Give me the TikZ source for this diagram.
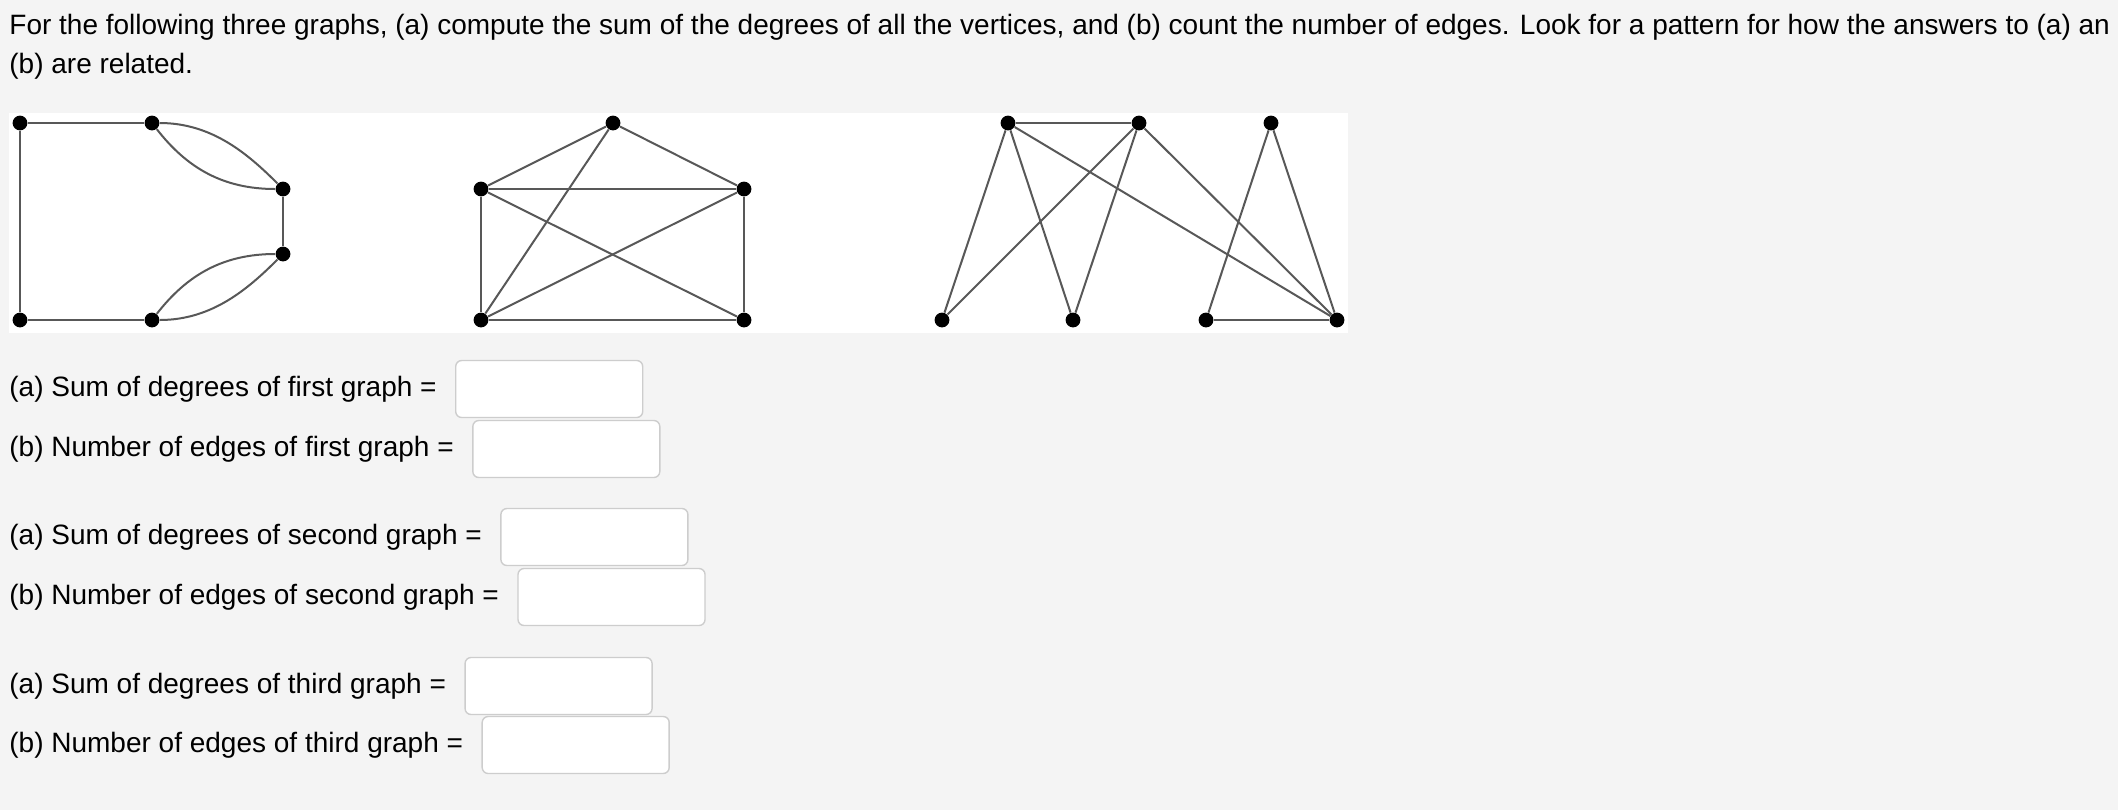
\documentclass[tikz,border=0pt]{standalone}
\usepackage{fontspec}
\setmainfont{Liberation Sans}
\usetikzlibrary{positioning}

\definecolor{pagebg}{HTML}{F4F4F4}
\definecolor{edgegray}{HTML}{585858}
\definecolor{boxline}{HTML}{CDCDCD}

\tikzset{
  vtx/.style={circle, fill=black, inner sep=0pt, minimum size=7.4pt},
  gedge/.style={draw=edgegray, line width=1pt},
  txt/.style={anchor=west, inner sep=0pt, font=\fontsize{14pt}{17pt}\selectfont},
  ansbox/.style={draw=boxline, fill=white, rounded corners=3pt, line width=0.7pt,
    minimum width=93.5pt, minimum height=28.5pt, inner sep=0pt}
}

\begin{document}
\begin{tikzpicture}[x=0.5pt,y=-0.5pt]
  \useasboundingbox (0,0) rectangle (2118,810);
  \clip (0,0) rectangle (2118,810);
  \fill[pagebg] (0,0) rectangle (2118,810);

  % question text
  \node[txt] (intro1) at (9,27) {For the following three graphs, (a) compute the sum of the degrees of all the vertices, and (b) count the number of edges. Look for a pattern for how the answers to (a) an};
  \node[txt] (intro2) at (9,66) {(b) are related.};

  % white panel behind the graphs
  \fill[white] (9,113) rectangle (1348,333);

  % first graph
  \node[vtx] (a1) at (20,123) {};
  \node[vtx] (a2) at (152,123) {};
  \node[vtx] (a3) at (283,189) {};
  \node[vtx] (a4) at (283,254) {};
  \node[vtx] (a5) at (20,320) {};
  \node[vtx] (a6) at (152,320) {};
  \draw[gedge] (a1) -- (a2);
  \draw[gedge] (a1) -- (a5);
  \draw[gedge] (a5) -- (a6);
  \draw[gedge] (a3) -- (a4);
  \draw[gedge] (a2) .. controls +(60,0) and +(-35,-35) .. (a3);
  \draw[gedge] (a2) .. controls +(35,45) and +(-60,0) .. (a3);
  \draw[gedge] (a6) .. controls +(60,0) and +(-35,35) .. (a4);
  \draw[gedge] (a6) .. controls +(35,-45) and +(-60,0) .. (a4);

  % second graph
  \node[vtx] (b1) at (613,123) {};
  \node[vtx] (b2) at (481,189) {};
  \node[vtx] (b3) at (744,189) {};
  \node[vtx] (b4) at (481,320) {};
  \node[vtx] (b5) at (744,320) {};
  \draw[gedge] (b1) -- (b2);
  \draw[gedge] (b1) -- (b3);
  \draw[gedge] (b1) -- (b4);
  \draw[gedge] (b2) -- (b3);
  \draw[gedge] (b2) -- (b4);
  \draw[gedge] (b2) -- (b5);
  \draw[gedge] (b3) -- (b4);
  \draw[gedge] (b3) -- (b5);
  \draw[gedge] (b4) -- (b5);

  % third graph
  \node[vtx] (c1) at (1008,123) {};
  \node[vtx] (c2) at (1139,123) {};
  \node[vtx] (c3) at (1271,123) {};
  \node[vtx] (c4) at (942,320) {};
  \node[vtx] (c5) at (1073,320) {};
  \node[vtx] (c6) at (1206,320) {};
  \node[vtx] (c7) at (1337,320) {};
  \draw[gedge] (c1) -- (c2);
  \draw[gedge] (c1) -- (c4);
  \draw[gedge] (c1) -- (c5);
  \draw[gedge] (c1) -- (c7);
  \draw[gedge] (c2) -- (c4);
  \draw[gedge] (c2) -- (c5);
  \draw[gedge] (c2) -- (c7);
  \draw[gedge] (c3) -- (c6);
  \draw[gedge] (c3) -- (c7);
  \draw[gedge] (c6) -- (c7);

  % answer rows
  \node[txt] (qa1) at (9,389) {(a) Sum of degrees of first graph =};
  \node[ansbox, right=9pt of qa1] (ans1) {};
  \node[txt] (qb1) at (9,449) {(b) Number of edges of first graph =};
  \node[ansbox, right=9pt of qb1] (ans2) {};
  \node[txt] (qa2) at (9,537) {(a) Sum of degrees of second graph =};
  \node[ansbox, right=9pt of qa2] (ans3) {};
  \node[txt] (qb2) at (9,597) {(b) Number of edges of second graph =};
  \node[ansbox, right=9pt of qb2] (ans4) {};
  \node[txt] (qa3) at (9,686) {(a) Sum of degrees of third graph =};
  \node[ansbox, right=9pt of qa3] (ans5) {};
  \node[txt] (qb3) at (9,745) {(b) Number of edges of third graph =};
  \node[ansbox, right=9pt of qb3] (ans6) {};
\end{tikzpicture}
\end{document}
